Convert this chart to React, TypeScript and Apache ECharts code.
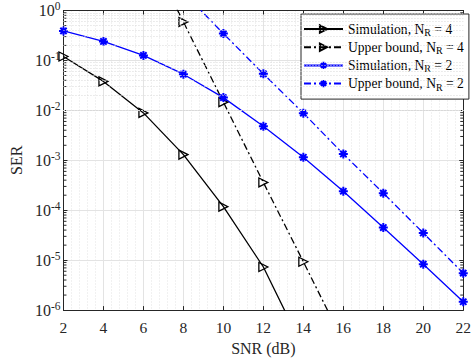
import React, { useEffect, useRef } from "react";
import * as echarts from "echarts";

const snrSim4 = [2, 4, 6, 8, 10, 12, 14];
const serSim4 = [0.12, 0.038, 0.0089, 0.0013, 1.18e-4, 7.3e-6, 1.7e-7];
const snrUb4 = [6, 8, 10, 12, 14, 16];
const serUb4 = [23.5, 0.59, 0.0146, 3.6e-4, 9.3e-6, 2.3e-7];
const snrSim2 = [2, 4, 6, 8, 10, 12, 14, 16, 18, 20, 22];
const serSim2 = [0.39, 0.24, 0.126, 0.053, 0.018, 0.0048, 0.00115, 2.4e-4, 4.5e-5, 8.3e-6, 1.47e-6];
const snrUb2 = [8, 10, 12, 14, 16, 18, 20, 22];
const serUb2 = [2.3, 0.345, 0.054, 0.0088, 0.00134, 2.2e-4, 3.5e-5, 5.5e-6];

const seriesNames = [
  "Simulation, NR = 4",
  "Upper bound, NR = 4",
  "Simulation, NR = 2",
  "Upper bound, NR = 2",
];

const decades = [-6, -5, -4, -3, -2, -1];
const minorMultipliers = [2, 3, 4, 5, 6, 7, 8, 9];

const FONT = "Liberation Serif";
const AXIS = "#262626";
const asterisk = "path://M10,0L10,20M0,10L20,10M3,3L17,17M3,17L17,3";

const pair = (xs: number[], ys: number[]) => xs.map((x, i) => [x, ys[i]]);

export default function App() {
  const ref = useRef<HTMLDivElement>(null);
  useEffect(() => {
    if (!ref.current) return;
    const chart = echarts.init(ref.current, undefined, { renderer: "svg" });
    const minorValues: number[] = [];
    decades.forEach((d) => minorMultipliers.forEach((m) => minorValues.push(m * Math.pow(10, d))));

    const tri = {
      symbol: "triangle",
      symbolSize: 9,
      symbolRotate: -90,
      itemStyle: { color: "rgba(255,255,255,0)", borderColor: "#000", borderWidth: 1.3 },
    };
    const star = {
      symbol: asterisk,
      symbolSize: 9,
      itemStyle: { color: "#0000ff", borderColor: "#0000ff", borderWidth: 2 },
    };

    chart.setOption({
      animation: false,
      textStyle: { fontFamily: FONT },
      grid: { left: 51, right: 8, top: 9, bottom: 45, containLabel: false },
      legend: {
        data: seriesNames,
        orient: "vertical",
        left: 301,
        top: 14,
        itemWidth: 39,
        itemHeight: 9,
        itemGap: 2.7,
        padding: [8, 5, 7, 2],
        backgroundColor: "#fff",
        borderColor: AXIS,
        borderWidth: 1,
        borderRadius: 0,
        textStyle: {
          fontFamily: FONT,
          fontSize: 13.6,
          color: "#000",
          rich: {
            sub: { fontFamily: FONT, fontSize: 10, color: "#000", padding: [7, 0, 0, 0] },
          },
        },
        formatter: (name: string) => name.replace("NR", "N{sub|R}"),
      },
      xAxis: [
        {
          type: "value",
          min: 2,
          max: 22,
          interval: 2,
          name: "SNR (dB)",
          nameLocation: "middle",
          nameGap: 29,
          nameTextStyle: { fontFamily: FONT, fontSize: 16, color: AXIS },
          axisLine: { lineStyle: { color: AXIS, width: 1 } },
          axisTick: { inside: true, length: 4, lineStyle: { color: AXIS } },
          axisLabel: { fontFamily: FONT, fontSize: 15.5, color: AXIS, margin: 9 },
          splitLine: { lineStyle: { color: "#e3e3e3", width: 1 } },
          minorTick: { show: false, splitNumber: 5 },
          minorSplitLine: { show: true, lineStyle: { color: "#e3e3e3", type: [1, 2] } },
        },
        {
          type: "value",
          position: "top",
          min: 2,
          max: 22,
          interval: 2,
          axisLine: { show: true, lineStyle: { color: AXIS, width: 1 } },
          axisTick: { show: true, inside: true, length: 4, lineStyle: { color: AXIS } },
          axisLabel: { show: false },
          splitLine: { show: false },
        },
      ],
      yAxis: [
        {
          type: "log",
          logBase: 10,
          min: 1e-6,
          max: 1,
          name: "SER",
          nameLocation: "middle",
          nameGap: 37,
          nameTextStyle: { fontFamily: FONT, fontSize: 16, color: AXIS },
          axisLine: { show: true, lineStyle: { color: AXIS, width: 1 } },
          axisTick: { show: true, inside: true, length: 4, lineStyle: { color: AXIS } },
          axisLabel: {
            fontFamily: FONT,
            fontSize: 16,
            color: AXIS,
            margin: 3,
            formatter: (v: number) => `10{sup|${Math.round(Math.log10(v))}}`,
            rich: {
              sup: { fontFamily: FONT, fontSize: 11.5, color: AXIS, padding: [0, 0, 9, 0] },
            },
          },
          splitLine: { lineStyle: { color: "#e3e3e3", width: 1 } },
        },
        {
          type: "log",
          logBase: 10,
          min: 1e-6,
          max: 1,
          position: "right",
          axisLine: { show: true, lineStyle: { color: AXIS, width: 1 } },
          axisTick: { show: true, inside: true, length: 4, lineStyle: { color: AXIS } },
          axisLabel: { show: false },
          splitLine: { show: false },
        },
      ],
      series: [
        {
          name: "minor-grid",
          type: "line",
          data: [],
          silent: true,
          markLine: {
            silent: true,
            symbol: "none",
            label: { show: false },
            lineStyle: { color: "#d8d8d8", type: [1, 2], width: 1 },
            data: minorValues.map((v) => ({ yAxis: v })),
          },
        },
        {
          name: "minor-ticks",
          type: "custom",
          silent: true,
          data: minorValues.map((v) => [v]),
          renderItem: (params: any, api: any) => {
            const v = api.value(0);
            const l = api.coord([2, v]);
            const r = api.coord([22, v]);
            return {
              type: "group",
              children: [
                { type: "line", shape: { x1: l[0], y1: l[1], x2: l[0] + 3, y2: l[1] }, style: { stroke: AXIS, lineWidth: 1 } },
                { type: "line", shape: { x1: r[0] - 3, y1: r[1], x2: r[0], y2: r[1] }, style: { stroke: AXIS, lineWidth: 1 } },
              ],
            };
          },
        },
        {
          name: seriesNames[0],
          type: "line",
          data: pair(snrSim4, serSim4),
          clip: true,
          lineStyle: { color: "#000", width: 1.3 },
          color: "#000",
          ...tri,
        },
        {
          name: seriesNames[1],
          type: "line",
          data: pair(snrUb4, serUb4),
          clip: true,
          lineStyle: { color: "#000", width: 1.3, type: [7, 3, 2, 3] },
          color: "#000",
          ...tri,
        },
        {
          name: seriesNames[2],
          type: "line",
          data: pair(snrSim2, serSim2),
          clip: true,
          lineStyle: { color: "#0000ff", width: 1.3 },
          color: "#0000ff",
          ...star,
        },
        {
          name: seriesNames[3],
          type: "line",
          data: pair(snrUb2, serUb2),
          clip: true,
          lineStyle: { color: "#0000ff", width: 1.3, type: [7, 3, 2, 3] },
          color: "#0000ff",
          ...star,
        },
      ],
    });
    return () => chart.dispose();
  }, []);
  return <div ref={ref} style={{ width: 474, height: 361, position: "absolute", left: 0, top: 0 }} />;
}
